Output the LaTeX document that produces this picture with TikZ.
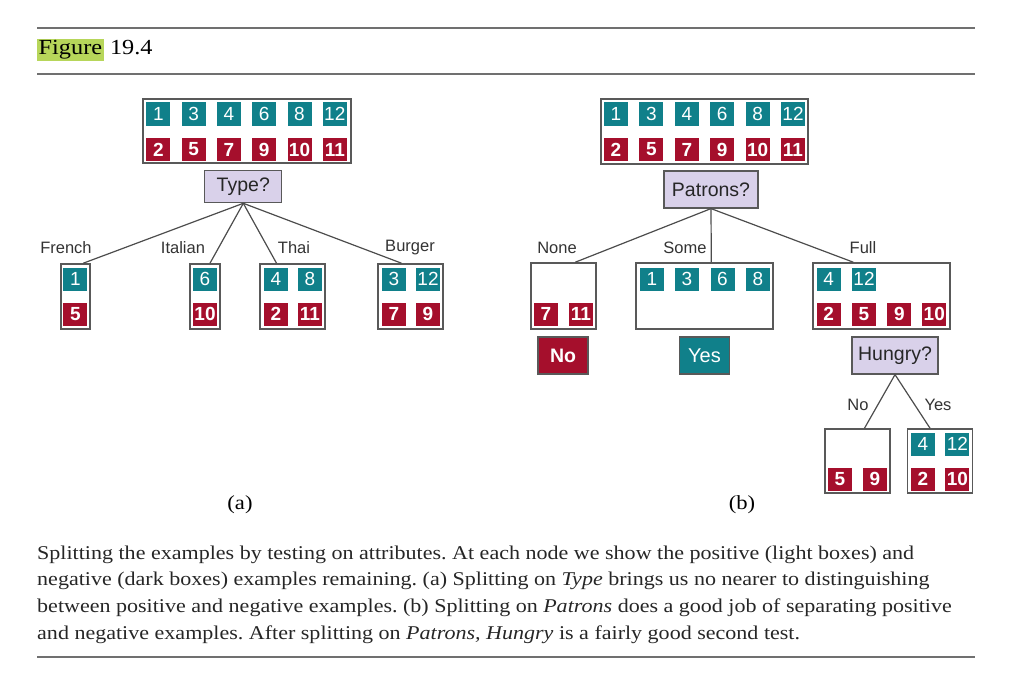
\documentclass[tikz,border=0pt]{standalone}
\usepackage{fontspec}
\setmainfont{Liberation Serif}
\setsansfont{Liberation Sans}
\newfontfamily\capfont{Liberation Serif}[FakeStretch=1.13]
\definecolor{posteal}{HTML}{10808A}
\definecolor{negred}{HTML}{A50F2C}
\definecolor{testlilac}{HTML}{D9D1EA}
\definecolor{figgreen}{HTML}{B7D65A}
\definecolor{rulegray}{HTML}{707070}
\tikzset{
  posex/.style={fill=posteal, text=white, minimum width=24pt, minimum height=23pt, inner sep=0pt, font=\sffamily\fontsize{19}{19}\selectfont},
  negex/.style={posex, fill=negred, font=\sffamily\bfseries\fontsize{19}{19}\selectfont},
  exset/.style={draw=black!65, line width=1.6pt, inner sep=0pt},
  test/.style={draw=black!65, line width=1.2pt, fill=testlilac, inner sep=0pt, text=black!85, font=\sffamily\fontsize{19.5}{19.5}\selectfont},
  leaf/.style={draw=black!65, line width=1.2pt, text=white, minimum width=50pt, minimum height=37pt, inner sep=0pt},
  branch/.style={draw=black!70, line width=1.2pt},
  lbl/.style={text=black!80, font=\sffamily\fontsize{16.5}{16.5}\selectfont},
  capline/.style={anchor=base west, inner sep=0pt, text=black!85, font=\capfont\frenchspacing\fontsize{19.5}{19.5}\selectfont},
}
\begin{document}
\begin{tikzpicture}[x=1pt,y=-1pt]
\useasboundingbox (0,0) rectangle (1024,674);
\path[draw=rulegray, line width=1.4pt] (37,28) -- (975,28);
\path[draw=rulegray, line width=1.4pt] (37,74) -- (975,74);
\path[draw=rulegray, line width=1.4pt] (37,657) -- (975,657);
\node[fill=figgreen, inner sep=1.5pt, anchor=base west, font=\capfont\fontsize{21.5}{21.5}\selectfont] (fig) at (37,55) {Figure};
\node[anchor=base west, inner sep=0pt, font=\capfont\fontsize{21.5}{21.5}\selectfont] (fignum) at ([xshift=6pt]fig.base east) {19.4};

\node[exset, minimum width=208pt, minimum height=64pt] (rootA) at (247,131) {};
\foreach \n [count=\i from 0] in {1,3,4,6,8,12}
  \node[posex] (ap\n) at (158.3+35.3*\i,114) {\n};
\foreach \n [count=\i from 0] in {2,5,7,9,10,11}
  \node[negex] (an\n) at (158.3+35.3*\i,149.5) {\n};
\node[test, minimum width=77pt, minimum height=32pt] (type) at (243.3,186.7) {Type?};
\node[exset, minimum width=29pt, minimum height=65pt] (french) at (75.3,296.5) {};
\node[posex] (fr1) at (75.3,279.3) {1};
\node[negex] (fr5) at (75.3,314) {5};
\node[exset, minimum width=30pt, minimum height=65pt] (italian) at (205,296.5) {};
\node[posex] (it6) at (205,279.3) {6};
\node[negex] (it10) at (205,314) {10};
\node[exset, minimum width=65pt, minimum height=65pt] (thai) at (292.5,296.5) {};
\node[posex] (th4) at (276,279.3) {4};
\node[posex] (th8) at (310,279.3) {8};
\node[negex] (th2) at (276,314) {2};
\node[negex] (th11) at (310,314) {11};
\node[exset, minimum width=65pt, minimum height=65pt] (burger) at (410.5,296.5) {};
\node[posex] (bu3) at (394,279.3) {3};
\node[posex] (bu12) at (428,279.3) {12};
\node[negex] (bu7) at (394,314) {7};
\node[negex] (bu9) at (428,314) {9};
\path[branch] (type.south) -- ([xshift=8pt]french.north);
\path[branch] (type.south) -- ([xshift=5pt]italian.north);
\path[branch] (type.south) -- ([xshift=-16pt]thai.north);
\path[branch] (type.south) -- ([xshift=-9pt]burger.north);
\node[lbl] (lfrench) at (66,248) {French};
\node[lbl] (litalian) at (183,248) {Italian};
\node[lbl] (lthai) at (294,248) {Thai};
\node[lbl] (lburger) at (410,248) {Burger};
\node[font=\capfont\fontsize{20}{20}\selectfont] (suba) at (240,505) {(a)};

\node[exset, minimum width=207pt, minimum height=65pt] (rootB) at (704.5,131.5) {};
\foreach \n [count=\i from 0] in {1,3,4,6,8,12}
  \node[posex] (bp\n) at (616+35.4*\i,114) {\n};
\foreach \n [count=\i from 0] in {2,5,7,9,10,11}
  \node[negex] (bn\n) at (616+35.4*\i,149.5) {\n};
\node[test, minimum width=94pt, minimum height=37pt] (patrons) at (711,189.5) {Patrons?};
\node[exset, minimum width=65pt, minimum height=66pt] (none) at (563.3,296) {};
\node[negex] (no7) at (546,314) {7};
\node[negex] (no11) at (581,314) {11};
\node[exset, minimum width=137pt, minimum height=66pt] (some) at (704.3,296) {};
\node[posex] (so1) at (652,279) {1};
\node[posex] (so3) at (687,279) {3};
\node[posex] (so6) at (722.5,279) {6};
\node[posex] (so8) at (758,279) {8};
\node[exset, minimum width=137pt, minimum height=66pt] (full) at (881.3,296) {};
\node[posex] (fu4) at (828.7,279) {4};
\node[posex] (fu12) at (864,279) {12};
\node[negex] (fu2) at (828.7,314) {2};
\node[negex] (fu5) at (864,314) {5};
\node[negex] (fu9) at (899.3,314) {9};
\node[negex] (fu10) at (934.3,314) {10};
\path[branch] (patrons.south) -- ([xshift=12pt]none.north);
\path[branch] (patrons.south) -- ([xshift=7pt]some.north);
\path[branch] (patrons.south) -- ([xshift=-28pt]full.north);
\node[lbl] (lnone) at (557,248) {None};
\node[lbl] (lsome) at (685,248) {Some};
\node[lbl] (lfull) at (863,248) {Full};
\node[leaf, fill=negred, font=\sffamily\bfseries\fontsize{19.5}{19.5}\selectfont] (leafno) at (563,355.5) {No};
\node[leaf, fill=posteal, font=\sffamily\fontsize{20}{20}\selectfont] (leafyes) at (704.5,355.5) {Yes};
\node[test, minimum width=86pt, minimum height=37pt] (hungry) at (895,355.5) {Hungry?};
\node[exset, minimum width=65pt, minimum height=64pt] (hno) at (857.5,461) {};
\node[negex] (hn5) at (840,479) {5};
\node[negex] (hn9) at (875,479) {9};
\node[exset, minimum width=65pt, minimum height=64pt] (hyes) at (940,461) {};
\node[posex] (hy4) at (923,444) {4};
\node[posex] (hy12) at (957.4,444) {12};
\node[negex] (hy2) at (923,479) {2};
\node[negex] (hy10) at (957.4,479) {10};
\path[branch] (hungry.south) -- ([xshift=7pt]hno.north);
\path[branch] (hungry.south) -- ([xshift=-10pt]hyes.north);
\node[lbl] (lhno) at (858,405) {No};
\node[lbl] (lhyes) at (938,405) {Yes};
\node[font=\capfont\fontsize{20}{20}\selectfont] (subb) at (742,505) {(b)};

\node[capline] (cap1) at (37,559) {Splitting the examples by testing on attributes. At each node we show the positive (light boxes) and};
\node[capline] (cap2) at (37,585.7) {negative (dark boxes) examples remaining. (a) Splitting on \textit{Type} brings us no nearer to distinguishing};
\node[capline] (cap3) at (37,612.4) {between positive and negative examples. (b) Splitting on \textit{Patrons} does a good job of separating positive};
\node[capline] (cap4) at (37,639) {and negative examples. After splitting on \textit{Patrons, Hungry} is a fairly good second test.};
\end{tikzpicture}
\end{document}
